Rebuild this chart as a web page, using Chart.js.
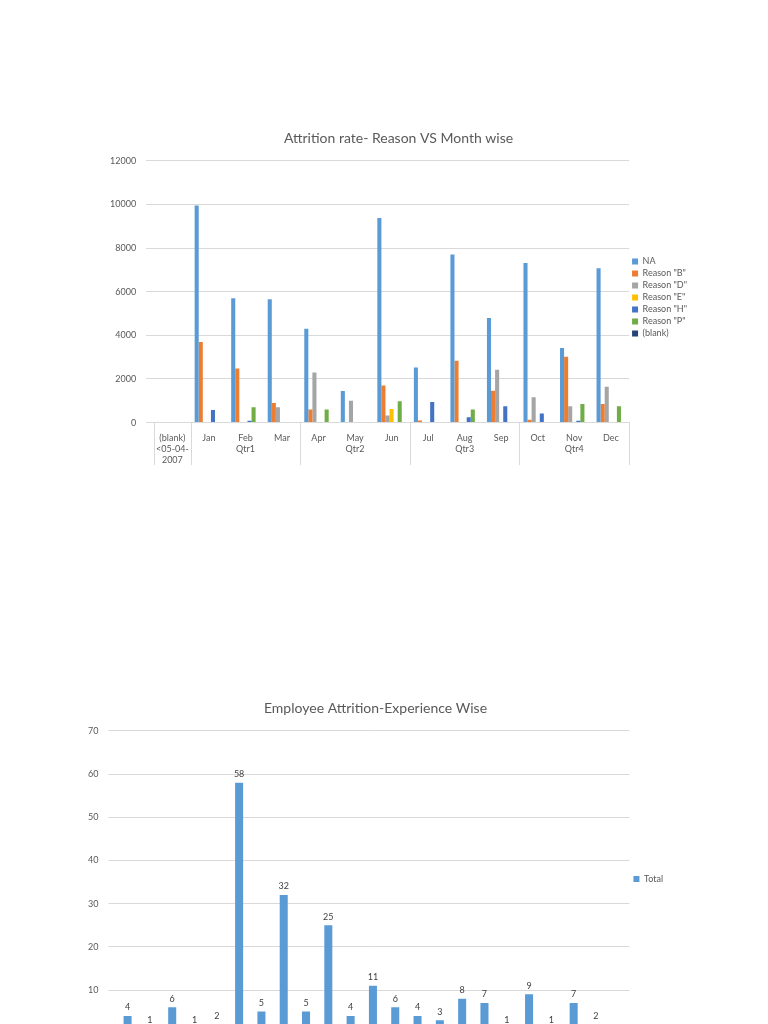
<!DOCTYPE html>
<html>
<head>
<meta charset="utf-8">
<script src="https://cdn.jsdelivr.net/npm/chart.js@4"></script>
<style>
  html, body { margin: 0; padding: 0; background: #fff; overflow: hidden; width: 768px; height: 1024px; }
  .box { position: absolute; }
</style>
</head>
<body>
<div class="box" style="left:100px; top:128px; width:597px; height:339px;"><canvas id="myChart"></canvas></div>
<div class="box" style="left:78px; top:700px; width:595px; height:358px;"><canvas id="myChart2"></canvas></div>
<script>
// top chart
var months = [["(blank)", "<05-04-", "2007"], "Jan", ["Feb", "Qtr1"], "Mar", "Apr", ["May", "Qtr2"], "Jun",
    "Jul", ["Aug", "Qtr3"], "Sep", "Oct", ["Nov", "Qtr4"], "Dec"];
var reasonNames = ["NA", 'Reason "B"', 'Reason "D"', 'Reason "E"', 'Reason "H"', 'Reason "P"', "(blank)"];
var reasonColors = ["#5B9BD5", "#ED7D31", "#A5A5A5", "#FFC000", "#4472C4", "#70AD47", "#264478"];
var naVals = [0, 9950, 5700, 5650, 4300, 1450, 9380, 2520, 7700, 4800, 7320, 3420, 7080];
var bVals = [0, 3700, 2480, 900, 600, 0, 1700, 100, 2830, 1460, 130, 3020, 850];
var dVals = [0, 0, 0, 700, 2300, 1000, 330, 0, 0, 2420, 1160, 750, 1640];
var eVals = [0, 0, 0, 0, 0, 0, 620, 0, 0, 0, 0, 0, 0];
var hVals = [0, 580, 80, 0, 0, 0, 0, 940, 240, 750, 420, 80, 0];
var pVals = [0, 0, 700, 0, 600, 0, 980, 0, 600, 0, 0, 850, 750];
var blankVals = [0, 0, 0, 0, 0, 0, 0, 0, 0, 0, 0, 0, 0];
var topTicks = [0, 2000, 4000, 6000, 8000, 10000, 12000];

// bottom chart
var expLabels = ["0", "1", "2", "3", "4", "5", "6", "7", "8", "9", "10", "11", "12", "13", "14", "15", "16", "17", "18", "19", "20", "21", "22"];
var expTotals = [4, 1, 6, 1, 2, 58, 5, 32, 5, 25, 4, 11, 6, 4, 3, 8, 7, 1, 9, 1, 7, 2, null];

Chart.defaults.font.family = "Lato, 'Open Sans', sans-serif";
Chart.defaults.color = "#595959";
Chart.defaults.animation = false;

var seriesVals = [naVals, bVals, dVals, eVals, hVals, pVals, blankVals];
var topSets = reasonNames.map(function (n, i) {
    return { label: n, data: seriesVals[i], backgroundColor: reasonColors[i],
        categoryPercentage: 0.78, barPercentage: 1.0 };
});

function plain(v) { return String(v); }

// draw the vertical separators under the category axis (pivot style)
var groupLines = {
    id: 'groupLines',
    afterDraw: function (chart) {
        var x = chart.scales.x, ctx = chart.ctx;
        var bottom = x.bottom - 2;
        var step = (x.right - x.left) / months.length;
        var seps = [0, 1, 4, 7, 10, 13];
        ctx.save();
        ctx.strokeStyle = "#d9d9d9";
        ctx.lineWidth = 1;
        seps.forEach(function (s) {
            var px = Math.round(x.left + s * step) + 0.5;
            ctx.beginPath();
            ctx.moveTo(px, x.top);
            ctx.lineTo(px, bottom);
            ctx.stroke();
        });
        ctx.restore();
    }
};

new Chart(document.getElementById("myChart"), {
    type: 'bar',
    data: { labels: months, datasets: topSets },
    options: {
        responsive: true,
        maintainAspectRatio: false,
        plugins: {
            title: { display: true, text: "Attrition rate- Reason VS Month wise",
                font: { size: 14, weight: 'normal' }, color: "#595959", padding: { top: 2, bottom: 14 } },
            legend: { position: 'right',
                labels: { boxWidth: 6, boxHeight: 6, padding: 3, font: { size: 9 } } },
            tooltip: { enabled: false }
        },
        scales: {
            x: { grid: { display: false }, border: { color: "#d9d9d9" },
                ticks: { font: { size: 9 }, maxRotation: 0, autoSkip: false, padding: 2 } },
            y: { min: 0, max: 12000, afterBuildTicks: function (ax) { ax.ticks = topTicks.map(function (v) { return { value: v }; }); },
                grid: { color: "#d9d9d9" }, border: { display: false },
                ticks: { font: { size: 9 }, padding: 10, callback: plain } }
        }
    },
    plugins: [groupLines]
});

// value labels above the bars
var valueLabels = {
    id: 'valueLabels',
    afterDatasetsDraw: function (chart) {
        var ctx = chart.ctx;
        var meta = chart.getDatasetMeta(0);
        ctx.save();
        ctx.font = "9px Lato, sans-serif";
        ctx.fillStyle = "#404040";
        ctx.textAlign = "center";
        ctx.textBaseline = "bottom";
        meta.data.forEach(function (bar, i) {
            var v = chart.data.datasets[0].data[i];
            if (v == null) return;
            ctx.fillText(v, bar.x, bar.y - 4);
        });
        ctx.restore();
    }
};

new Chart(document.getElementById("myChart2"), {
    type: 'bar',
    data: { labels: expLabels, datasets: [{ label: "Total", data: expTotals, backgroundColor: "#5B9BD5",
        categoryPercentage: 1.0, barPercentage: 0.36 }] },
    options: {
        responsive: true,
        maintainAspectRatio: false,
        plugins: {
            title: { display: true, text: "Employee Attrition-Experience Wise",
                font: { size: 14, weight: 'normal' }, color: "#595959", padding: { top: 0, bottom: 14 } },
            legend: { position: 'right',
                labels: { boxWidth: 6, boxHeight: 6, padding: 4, font: { size: 9 } } },
            tooltip: { enabled: false }
        },
        scales: {
            x: { grid: { display: false }, border: { color: "#d9d9d9" },
                ticks: { font: { size: 9 }, maxRotation: 0, autoSkip: false } },
            y: { min: 0, max: 70, ticks: { stepSize: 10, font: { size: 9 }, padding: 10 },
                grid: { color: "#d9d9d9" }, border: { display: false } }
        }
    },
    plugins: [valueLabels]
});
</script>
</body>
</html>
